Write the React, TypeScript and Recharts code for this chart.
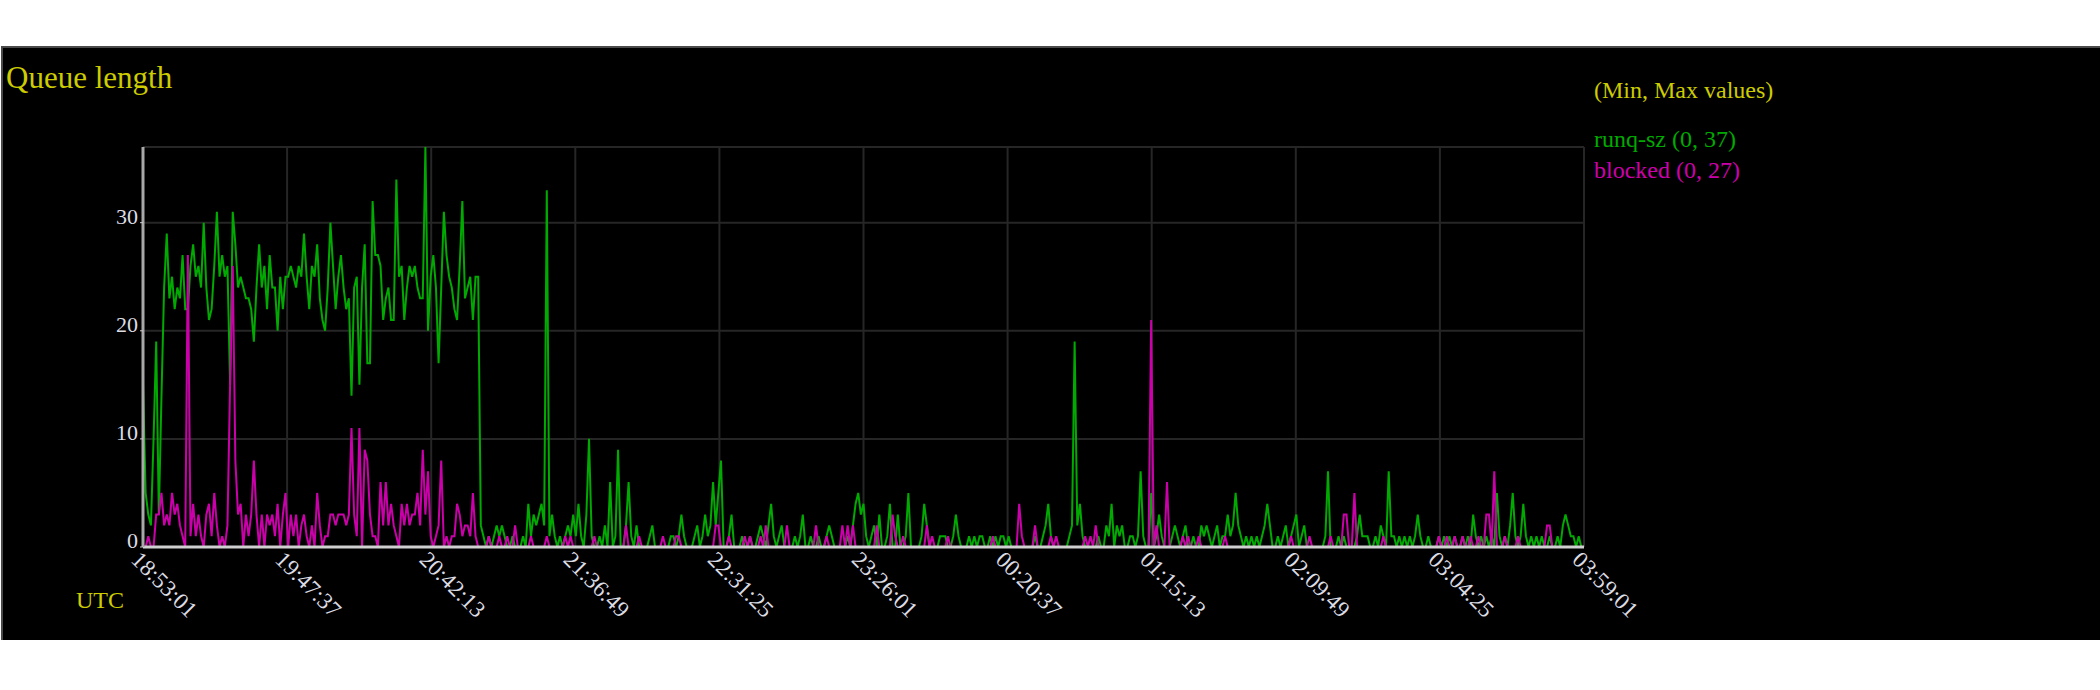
import React from 'react';
import { LineChart, Line, XAxis, YAxis, CartesianGrid } from 'recharts';

// sar-style queue length panel, one sample per minute

const TITLE = 'Queue length';
const LEGEND_HEADER = '(Min, Max values)';
const TIMEZONE = 'UTC';

const TIME_LABELS = [
  '18:53:01', '19:47:37', '20:42:13', '21:36:49', '22:31:25', '23:26:01',
  '00:20:37', '01:15:13', '02:09:49', '03:04:25', '03:59:01',
];

const Y_TICKS = [0, 10, 20, 30];

const runqSz = [
  15, 5, 3, 2, 10, 19, 3, 14, 24, 29,
  23, 25, 22, 24, 23, 27, 22, 22, 26, 28,
  25, 26, 24, 30, 24, 21, 22, 26, 31, 25,
  27, 25, 26, 15, 31, 28, 24, 25, 24, 23,
  23, 22, 19, 24, 28, 24, 26, 22, 27, 24,
  24, 20, 25, 22, 25, 25, 26, 25, 24, 26,
  25, 29, 25, 22, 26, 25, 28, 23, 21, 20,
  24, 30, 26, 22, 25, 27, 24, 22, 23, 14,
  24, 25, 15, 24, 28, 17, 17, 32, 27, 27,
  26, 21, 23, 24, 21, 21, 34, 25, 26, 21,
  24, 26, 25, 26, 24, 23, 23, 37, 20, 25,
  27, 24, 17, 24, 31, 27, 25, 24, 22, 21,
  26, 32, 23, 24, 25, 21, 25, 25, 2, 1,
  0, 1, 0, 1, 2, 1, 2, 1, 0, 0,
  1, 0, 0, 0, 1, 0, 4, 1, 3, 2,
  3, 4, 2, 33, 1, 3, 1, 0, 1, 0,
  1, 2, 1, 3, 1, 4, 1, 0, 3, 10,
  1, 0, 0, 1, 0, 2, 0, 6, 0, 1,
  9, 0, 0, 2, 6, 1, 0, 2, 0, 0,
  0, 0, 1, 2, 0, 0, 0, 0, 0, 0,
  1, 1, 0, 1, 3, 1, 0, 0, 0, 1,
  2, 0, 1, 3, 1, 2, 6, 2, 5, 8,
  0, 0, 1, 3, 0, 0, 0, 1, 0, 0,
  1, 0, 0, 1, 2, 1, 0, 2, 4, 1,
  0, 1, 2, 0, 0, 0, 0, 1, 0, 1,
  3, 0, 0, 1, 0, 0, 1, 0, 0, 1,
  2, 1, 0, 0, 0, 0, 0, 1, 0, 2,
  4, 5, 3, 4, 1, 0, 1, 2, 0, 3,
  0, 0, 1, 4, 0, 0, 3, 0, 0, 1,
  5, 0, 0, 0, 0, 1, 4, 2, 0, 0,
  0, 0, 1, 1, 1, 0, 0, 1, 3, 1,
  0, 0, 0, 1, 0, 1, 0, 1, 1, 0,
  0, 1, 0, 1, 0, 1, 1, 0, 1, 0,
  0, 0, 0, 0, 0, 0, 0, 0, 1, 0,
  0, 1, 2, 4, 1, 0, 0, 0, 0, 0,
  0, 1, 2, 19, 2, 4, 1, 0, 0, 0,
  0, 0, 1, 0, 0, 2, 1, 4, 0, 2,
  1, 2, 0, 0, 1, 1, 0, 1, 7, 1,
  0, 0, 5, 0, 1, 3, 1, 0, 0, 0,
  1, 2, 1, 0, 1, 2, 0, 0, 1, 0,
  0, 2, 1, 2, 1, 0, 1, 2, 0, 1,
  1, 3, 1, 2, 5, 2, 1, 0, 1, 0,
  1, 0, 1, 0, 1, 2, 4, 2, 0, 0,
  1, 0, 1, 2, 0, 1, 2, 3, 0, 1,
  2, 0, 0, 0, 0, 0, 0, 0, 1, 7,
  0, 0, 0, 1, 0, 1, 0, 0, 0, 0,
  1, 3, 1, 1, 1, 0, 0, 1, 0, 2,
  1, 0, 7, 1, 1, 0, 1, 0, 1, 0,
  1, 0, 1, 3, 1, 0, 0, 1, 0, 0,
  0, 1, 0, 1, 0, 1, 0, 1, 0, 0,
  1, 0, 1, 0, 3, 1, 0, 1, 0, 1,
  0, 1, 0, 5, 1, 0, 1, 0, 2, 5,
  1, 0, 1, 4, 1, 0, 1, 0, 1, 0,
  1, 0, 0, 1, 0, 0, 1, 0, 2, 3,
  2, 1, 1, 0, 1, 0, 0,
];

const blocked = [
  0, 0, 1, 0, 0, 3, 3, 5, 2, 3,
  2, 5, 3, 4, 2, 1, 0, 27, 1, 4,
  1, 3, 1, 0, 3, 4, 1, 5, 2, 0,
  1, 0, 2, 15, 26, 8, 3, 4, 0, 3,
  1, 3, 8, 3, 0, 3, 0, 3, 2, 3,
  1, 4, 0, 3, 5, 0, 3, 1, 3, 0,
  2, 3, 1, 0, 2, 0, 5, 2, 0, 1,
  1, 3, 3, 2, 3, 3, 3, 2, 3, 11,
  3, 1, 11, 0, 9, 8, 3, 1, 1, 0,
  6, 2, 6, 2, 4, 2, 1, 0, 4, 2,
  4, 2, 3, 3, 5, 2, 9, 3, 7, 1,
  0, 1, 2, 8, 0, 1, 0, 1, 1, 4,
  3, 1, 2, 2, 1, 5, 1, 0, 0, 0,
  0, 1, 0, 0, 0, 1, 0, 0, 1, 0,
  0, 2, 0, 0, 0, 0, 0, 1, 0, 0,
  0, 0, 0, 1, 0, 0, 0, 0, 0, 0,
  1, 0, 1, 0, 0, 0, 0, 0, 0, 0,
  0, 1, 0, 0, 0, 0, 0, 0, 0, 0,
  0, 0, 0, 2, 0, 0, 0, 0, 1, 0,
  0, 0, 0, 0, 0, 0, 0, 1, 0, 0,
  0, 0, 1, 1, 0, 0, 0, 0, 0, 0,
  0, 0, 0, 0, 0, 0, 0, 2, 2, 0,
  0, 0, 1, 0, 0, 0, 0, 0, 1, 0,
  1, 0, 0, 0, 1, 0, 2, 0, 0, 0,
  0, 0, 0, 0, 2, 0, 0, 0, 0, 0,
  0, 0, 0, 0, 0, 2, 0, 0, 0, 1,
  0, 0, 0, 0, 0, 2, 0, 2, 0, 2,
  0, 0, 0, 0, 0, 0, 0, 0, 2, 0,
  0, 0, 0, 0, 3, 1, 0, 0, 1, 0,
  0, 0, 0, 0, 0, 0, 0, 2, 0, 1,
  0, 0, 0, 0, 0, 1, 0, 0, 0, 0,
  0, 0, 0, 0, 0, 0, 0, 0, 0, 0,
  0, 0, 1, 0, 0, 0, 0, 0, 0, 0,
  0, 0, 4, 1, 0, 0, 0, 0, 2, 0,
  0, 0, 0, 0, 1, 0, 1, 0, 0, 0,
  0, 0, 0, 0, 0, 0, 0, 1, 0, 1,
  0, 2, 0, 0, 0, 0, 0, 0, 0, 0,
  0, 0, 0, 0, 0, 0, 0, 0, 0, 0,
  0, 0, 21, 0, 2, 0, 0, 0, 6, 0,
  0, 0, 0, 0, 1, 0, 1, 0, 0, 0,
  1, 0, 0, 0, 0, 0, 0, 0, 0, 0,
  1, 0, 0, 0, 0, 0, 0, 0, 0, 0,
  0, 0, 0, 0, 0, 0, 0, 0, 0, 0,
  0, 0, 0, 0, 0, 1, 0, 0, 0, 0,
  0, 0, 1, 0, 0, 0, 0, 0, 0, 0,
  1, 0, 0, 0, 0, 3, 3, 0, 0, 5,
  0, 0, 0, 0, 0, 0, 0, 0, 0, 0,
  1, 0, 0, 0, 0, 0, 0, 0, 0, 0,
  0, 0, 0, 0, 0, 0, 0, 0, 0, 0,
  0, 1, 0, 0, 1, 0, 0, 1, 0, 0,
  1, 0, 0, 1, 0, 0, 1, 0, 0, 3,
  3, 0, 7, 0, 0, 0, 1, 0, 0, 0,
  0, 1, 0, 0, 0, 0, 0, 0, 0, 0,
  0, 0, 2, 2, 0, 0, 0, 0, 0, 0,
  0, 0, 0, 0, 0, 0, 0,
];

const SERIES = [
  { key: 'runq', name: 'runq-sz', color: '#00aa00', values: runqSz },
  { key: 'blocked', name: 'blocked', color: '#cc00aa', values: blocked },
];

const FONT = '"Liberation Serif", "Times New Roman", serif';
const YELLOW = '#cccc00';
const LABEL = '#dcdce4';

const toSec = (s: string) => {
  const [h, m, sec] = s.split(':').map(Number);
  return h * 3600 + m * 60 + sec;
};
const startSec = toSec(TIME_LABELS[0]);
// minutes since the first label, wrapping over midnight
const xTicks = TIME_LABELS.map((s) => ((toSec(s) - startSec + 86400) % 86400) / 60);

const data = runqSz.map((v, i) => ({ t: i, runq: v, blocked: blocked[i] }));
const yMax = Math.max(...runqSz, ...blocked);

function XTick(props: any) {
  const { x, y, payload } = props;
  const idx = xTicks.indexOf(payload.value);
  const ax = x - 13;
  const ay = y + 14;
  return (
    <text
      x={ax}
      y={ay}
      transform={`rotate(45, ${ax}, ${ay})`}
      fill={LABEL}
      fontSize={23}
      fontFamily={FONT}
    >
      {TIME_LABELS[idx]}
    </text>
  );
}

function YTick(props: any) {
  const { x, y, payload } = props;
  return (
    <text x={x} y={y + 1} textAnchor="end" fill={LABEL} fontSize={22} fontFamily={FONT}>
      {payload.value}
    </text>
  );
}

export default function App() {
  return (
    <div style={{ position: 'relative', width: 2100, height: 690, background: '#fff', overflow: 'hidden' }}>
      <style>{'body{margin:0;background:#fff}'}</style>

      {/* black panel */}
      <div
        style={{
          position: 'absolute',
          left: 1,
          top: 46,
          width: 2099,
          height: 594,
          background: '#000',
          borderTop: '2px solid #4a4a4a',
          borderLeft: '2px solid #4a4a4a',
          boxSizing: 'border-box',
        }}
      />

      <div style={{ position: 'absolute', left: 0, top: 0 }}>
        <LineChart
          width={2100}
          height={690}
          data={data}
          margin={{ top: 147, right: 516, bottom: 43, left: 83 }}
        >
          <CartesianGrid stroke="#262626" strokeWidth={2} />
          <XAxis
            dataKey="t"
            type="number"
            domain={[0, xTicks[xTicks.length - 1]]}
            ticks={xTicks}
            interval={0}
            height={100}
            axisLine={{ stroke: '#d0d0d0', strokeWidth: 3 }}
            tickLine={false}
            tickSize={0}
            tickMargin={0}
            tick={<XTick />}
          />
          <YAxis
            domain={[0, yMax]}
            ticks={Y_TICKS}
            interval={0}
            width={60}
            axisLine={{ stroke: '#a8a8a8', strokeWidth: 3 }}
            tickLine={{ stroke: '#cccccc' }}
            tickSize={3}
            tickMargin={2}
            tick={<YTick />}
          />
          {SERIES.map((s) => (
            <Line
              key={s.key}
              type="linear"
              dataKey={s.key}
              stroke={s.color}
              strokeWidth={2}
              dot={false}
              activeDot={false}
              isAnimationActive={false}
            />
          ))}
        </LineChart>
      </div>

      {/* texts */}
      <svg
        width={2100}
        height={690}
        style={{ position: 'absolute', left: 0, top: 0, pointerEvents: 'none' }}
        fontFamily={FONT}
      >
        <text x={6} y={88} fill={YELLOW} fontSize={31}>{TITLE}</text>
        <text x={76} y={608} fill={YELLOW} fontSize={24}>{TIMEZONE}</text>
        <text x={1594} y={98} fill={YELLOW} fontSize={24}>{LEGEND_HEADER}</text>
        {SERIES.map((s, i) => (
          <text key={s.key} x={1594} y={147 + i * 31} fill={s.color} fontSize={24}>
            {`${s.name} (${Math.min(...s.values)}, ${Math.max(...s.values)})`}
          </text>
        ))}
      </svg>
    </div>
  );
}
